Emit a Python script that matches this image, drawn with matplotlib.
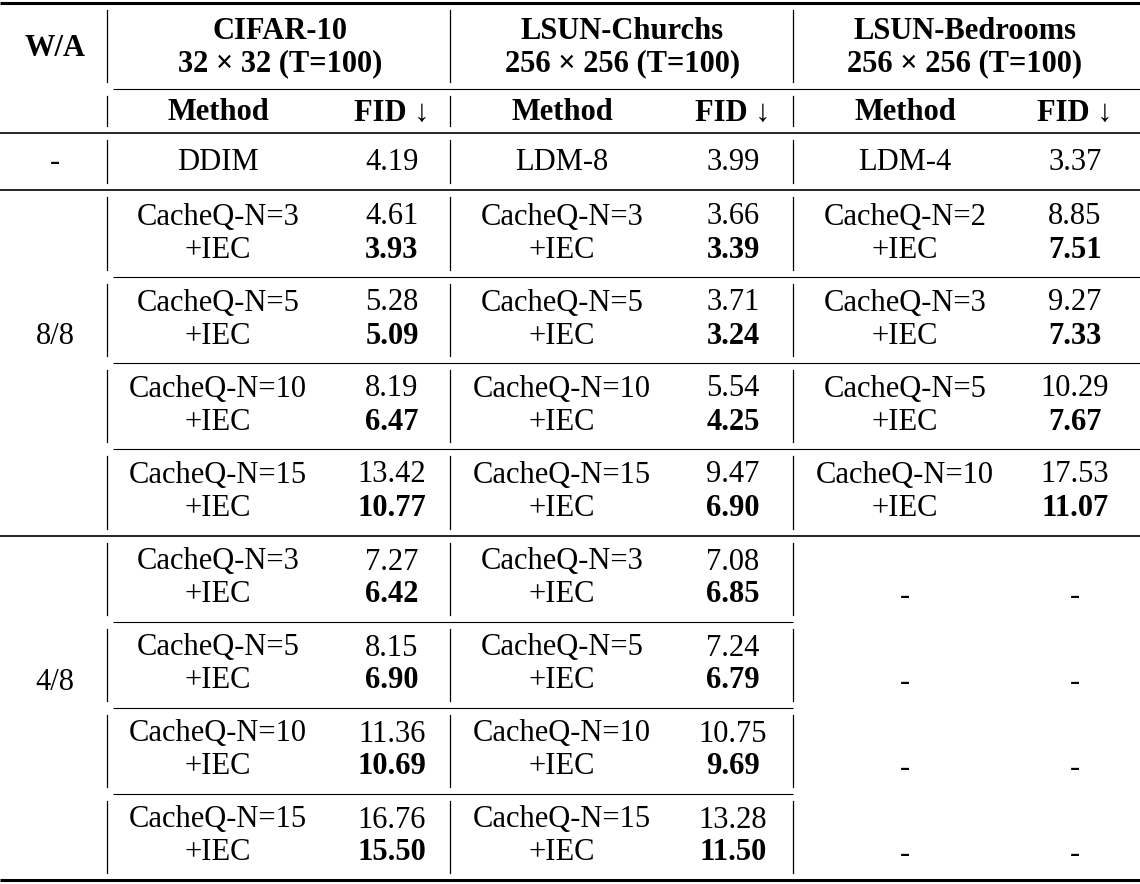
import matplotlib
matplotlib.use("Agg")
import matplotlib.pyplot as plt

datasets = ["CIFAR-10\n32 × 32 (T=100)", "LSUN-Churchs\n256 × 256 (T=100)", "LSUN-Bedrooms\n256 × 256 (T=100)"]
fp_methods = ["DDIM", "LDM-8", "LDM-4"]
fp_fids = ["4.19", "3.99", "3.37"]
cifar_n_88 = [3, 5, 10, 15]
cifar_base_88 = ["4.61", "5.28", "8.19", "13.42"]
cifar_iec_88 = ["3.93", "5.09", "6.47", "10.77"]
church_n_88 = [3, 5, 10, 15]
church_base_88 = ["3.66", "3.71", "5.54", "9.47"]
church_iec_88 = ["3.39", "3.24", "4.25", "6.90"]
bed_n_88 = [2, 3, 5, 10]
bed_base_88 = ["8.85", "9.27", "10.29", "17.53"]
bed_iec_88 = ["7.51", "7.33", "7.67", "11.07"]
cifar_n_48 = [3, 5, 10, 15]
cifar_base_48 = ["7.27", "8.15", "11.36", "16.76"]
cifar_iec_48 = ["6.42", "6.90", "10.69", "15.50"]
church_n_48 = [3, 5, 10, 15]
church_base_48 = ["7.08", "7.24", "10.75", "13.28"]
church_iec_48 = ["6.85", "6.79", "9.69", "11.50"]

W, H = 1140, 884
fig = plt.figure(figsize=(W/100, H/100), dpi=100)
ax = fig.add_axes([0, 0, 1, 1])
ax.set_xlim(0, W); ax.set_ylim(H, 0); ax.axis("off")
plt.rcParams["font.family"] = ["Liberation Serif", "DejaVu Serif"]
FS = 22

def t(x, y, s, bold=False, **kw):
    ax.text(x, y, s, ha="center", va="center", fontsize=FS,
            fontweight="bold" if bold else "normal", linespacing=1.15, **kw)

colx = [(218, 392), (562, 733), (905, 1075)]
vx = [107, 450, 793]

def hl(y, x0, x1, lw):
    ax.plot([x0, x1], [y, y], color="black", lw=lw, solid_capstyle="butt")
hl(3, 0, W, 2.2)
hl(89, 113, W, 0.8)
hl(133, 0, W, 1.2)
hl(190, 0, W, 1.2)
for y in [277, 363, 449]:
    hl(y, 113, W, 0.8)
hl(536, 0, W, 1.2)
for y in [622, 708, 794]:
    hl(y, 113, 793, 0.8)
hl(880, 0, W, 2.2)

bounds = [3, 89, 133, 190, 277, 363, 449, 536, 622, 708, 794, 880]
for i in range(len(bounds) - 1):
    y0, y1 = bounds[i] + 7, bounds[i+1] - 7
    for x in vx:
        ax.plot([x, x], [y0, y1], color="black", lw=0.9)

t(55, 48, "W/A", bold=True)
for (mx, fx), d in zip(colx, datasets):
    t((mx + fx) / 2 - 25, 48, d, bold=True)
    t(mx, 113, "Method", bold=True)
    t(fx, 113, "FID ↓", bold=True)

t(55, 163, "-")
for (mx, fx), m, f in zip(colx, fp_methods, fp_fids):
    t(mx, 163, m); t(fx, 163, f)

def block(col, ns, base, iec, ystart):
    mx, fx = colx[col]
    for k, (n, b, e) in enumerate(zip(ns, base, iec)):
        y = ystart + 86 * k
        t(mx, y, f"CacheQ-N={n}"); t(fx, y, b)
        t(mx, y + 33, "+IEC"); t(fx, y + 33, e, bold=True)

block(0, cifar_n_88, cifar_base_88, cifar_iec_88, 217)
block(1, church_n_88, church_base_88, church_iec_88, 217)
block(2, bed_n_88, bed_base_88, bed_iec_88, 217)
block(0, cifar_n_48, cifar_base_48, cifar_iec_48, 562)
block(1, church_n_48, church_base_48, church_iec_48, 562)
for k in range(4):
    y = 597 + 86 * k
    t(colx[2][0], y, "-"); t(colx[2][1], y, "-")
t(55, 336, "8/8")
t(55, 683, "4/8")

fig.savefig("out.png", dpi=100)
